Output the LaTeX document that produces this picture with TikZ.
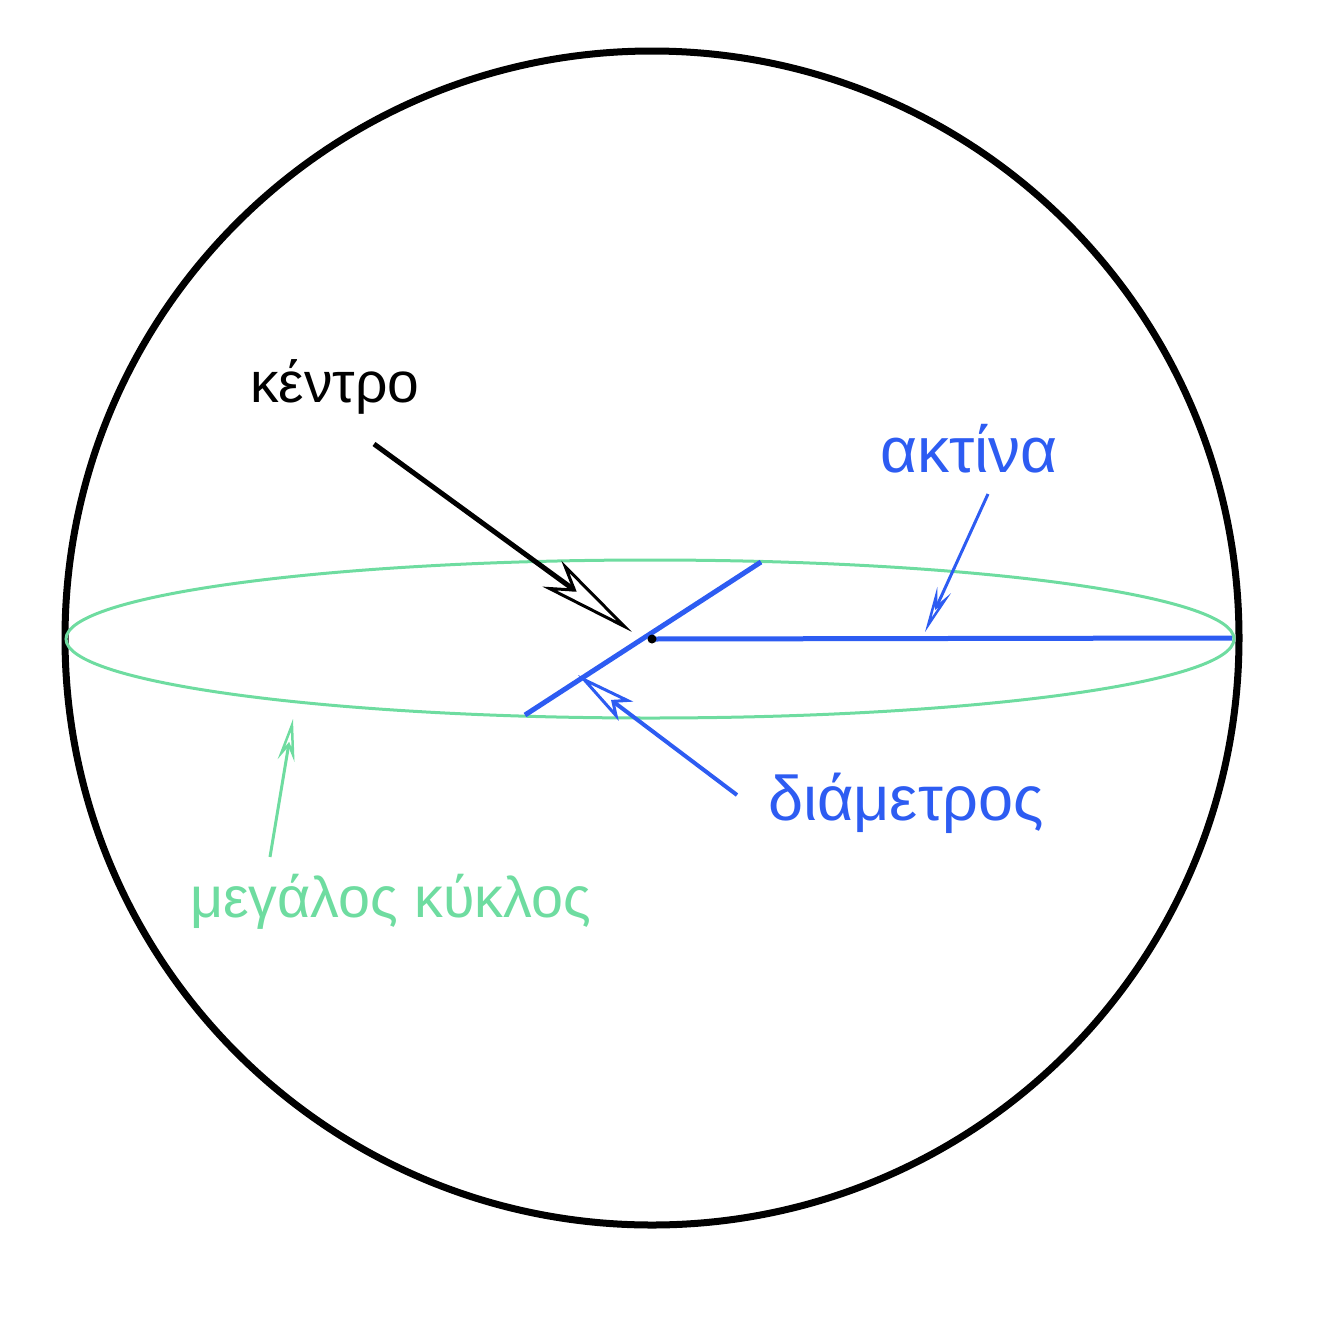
\documentclass[tikz,border=0pt]{standalone}
\usepackage{fontspec}
\setmainfont{Liberation Sans}
\usetikzlibrary{arrows.meta}
\definecolor{myblue}{RGB}{45,92,242}
\definecolor{mygreen}{RGB}{110,220,160}
\tikzset{
  lbl/.style={anchor=base west, inner sep=0pt},
}
\begin{document}
\begin{tikzpicture}[x=1pt,y=-1pt]
\useasboundingbox (0,0) rectangle (1317,1334);
% sphere and great circle
\draw[line width=7pt] (652,638) circle[radius=587];
\draw[mygreen, line width=3pt] (650,639) ellipse[x radius=584, y radius=79];
% coordinates
\coordinate (C) at (652,639);
\coordinate (R) at (1232,638);
\coordinate (D1) at (761,562);
\coordinate (D2) at (525,715);
% radius and diameter
\draw[myblue, line width=5pt] (C) -- (R);
\draw[myblue, line width=5pt] (D1) -- (D2);
\fill (C) circle[radius=4.5];
% labels
\node[lbl, font=\fontsize{57}{60}\selectfont] (kentro) at (250,402) {κέντρο};
\node[lbl, myblue, font=\fontsize{64}{70}\selectfont] (aktina) at (880,472) {ακτίνα};
\node[lbl, myblue, font=\fontsize{63}{70}\selectfont] (diam) at (768,820) {διάμετρος};
\node[lbl, mygreen, font=\fontsize{57.5}{62}\selectfont] (megalos) at (190,917) {μεγάλος κύκλος};
% arrow endpoints
\coordinate (k0) at (374,444);
\coordinate (k1) at (632,632);
\coordinate (a0) at (988,494);
\coordinate (a1) at (925,632);
\coordinate (d0) at (737,795);
\coordinate (d1) at (578,675);
\coordinate (m0) at (270,857);
\coordinate (m1) at (293,719);
\draw[line width=5pt, -{Stealth[open, length=99pt, width=32pt, inset=25pt, line width=3pt]}] (k0) -- (k1);
\draw[myblue, line width=3pt, -{Stealth[open, length=46pt, width=15pt, inset=16pt, line width=2.5pt]}] (a0) -- (a1);
\draw[myblue, line width=4pt, -{Stealth[open, length=60pt, width=24pt, inset=14pt, line width=3pt]}] (d0) -- (d1);
\draw[mygreen, line width=3pt, -{Stealth[open, length=42pt, width=17pt, inset=14pt, line width=2.5pt]}] (m0) -- (m1);
\end{tikzpicture}
\end{document}
